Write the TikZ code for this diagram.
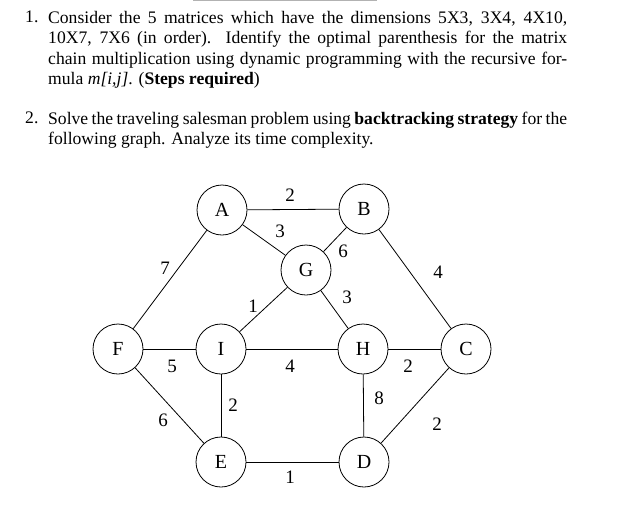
\documentclass[tikz,border=0pt]{standalone}
\usepackage{fontspec}
\setmainfont{Liberation Serif}
\begin{document}
\begin{tikzpicture}[x=1pt,y=-1pt,
  vert/.style={circle,draw,line width=0.8pt,minimum size=50pt,inner sep=0pt,font=\fontsize{20}{20}\selectfont},
  wl/.style={font=\fontsize{19}{19}\selectfont,inner sep=0pt},
  para/.style={anchor=north west,text width=519pt,inner sep=0pt,align=justify,font=\fontsize{17.6}{20.3}\selectfont}]
\useasboundingbox (0,0) rectangle (631,507);
\draw[gray!60,line width=2pt] (193,0) -- (377,0);
\node[anchor=north west,inner sep=0pt,font=\fontsize{17.6}{20.3}\selectfont] (n1) at (25,11) {1.};
\node[para] (p1) at (48,11) {\hyphenpenalty=10000\relax Consider the 5 matrices which have the dimensions 5X3, 3X4, 4X10, 10X7, 7X6 (in order). Identify the optimal parenthesis for the matrix chain multiplication using dynamic programming with the recursive formula \textit{m[i,j]}. (\textbf{Steps required})};
\node[anchor=north west,inner sep=0pt,font=\fontsize{17.6}{20.3}\selectfont] (n2) at (25,112) {2.};
\node[para] (p2) at (48,112) {\hyphenpenalty=10000\relax Solve the traveling salesman problem using \textbf{backtracking strategy} for the following graph. Analyze its time complexity.};
\node[vert] (A) at (222,210) {A};
\node[vert] (B) at (364,209) {B};
\node[vert] (G) at (306,270) {G};
\node[vert] (F) at (118,349) {F};
\node[vert] (I) at (221,349) {I};
\node[vert] (H) at (363,349) {H};
\node[vert] (C) at (466,349) {C};
\node[vert] (E) at (221,462) {E};
\node[vert] (D) at (364,462) {D};
\begin{scope}[line width=0.8pt]
\draw (A)--(B); \draw (A)--(G); \draw (B)--(G); \draw (A)--(F); \draw (B)--(C);
\draw (G)--(I); \draw (G)--(H); \draw (F)--(I); \draw (I)--(H); \draw (H)--(C);
\draw (F)--(E); \draw (I)--(E); \draw (H)--(D); \draw (C)--(D); \draw (E)--(D);
\end{scope}
\node[wl] (l1) at (290,195) {2};
\node[wl] (l2) at (280,231) {3};
\node[wl] (l3) at (343,251) {6};
\node[wl] (l4) at (165,268) {7};
\node[wl] (l5) at (438,272) {4};
\node[wl] (l6) at (253,306) {1};
\node[wl] (l7) at (347,297) {3};
\node[wl] (l8) at (172,366) {5};
\node[wl] (l9) at (290,366) {4};
\node[wl] (l10) at (408,366) {2};
\node[wl] (l11) at (379,398) {8};
\node[wl] (l12) at (233,405) {2};
\node[wl] (l13) at (163,420) {6};
\node[wl] (l14) at (437,424) {2};
\node[wl] (l15) at (290,477) {1};
\end{tikzpicture}
\end{document}
